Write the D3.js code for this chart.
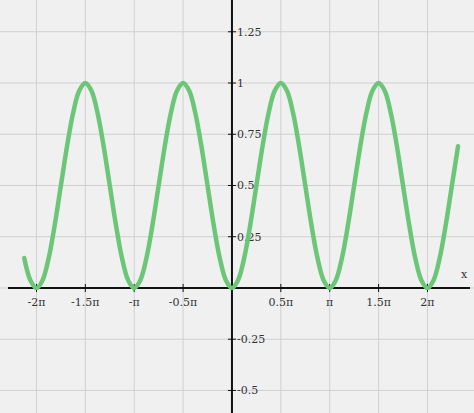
<!DOCTYPE html>
<html><head><meta charset="utf-8">
<script src="https://cdn.jsdelivr.net/npm/d3@7"></script>
<style>body{margin:0;background:#fff}svg{display:block}text{font-family:"DejaVu Serif",serif;font-size:11px;fill:#333}</style>
</head><body>
<script>
// x positions in units of pi/16, from -34 to 37
const xStart = -34;
const yValues = [
  0.146, 0.038, 0, 0.038, 0.146, 0.309, 0.5, 0.691, 0.854, 0.962, 1, 0.962, 0.854, 0.691, 0.5, 0.309,
  0.146, 0.038, 0, 0.038, 0.146, 0.309, 0.5, 0.691, 0.854, 0.962, 1, 0.962, 0.854, 0.691, 0.5, 0.309,
  0.146, 0.038, 0, 0.038, 0.146, 0.309, 0.5, 0.691, 0.854, 0.962, 1, 0.962, 0.854, 0.691, 0.5, 0.309,
  0.146, 0.038, 0, 0.038, 0.146, 0.309, 0.5, 0.691, 0.854, 0.962, 1, 0.962, 0.854, 0.691, 0.5, 0.309,
  0.146, 0.038, 0, 0.038, 0.146, 0.309, 0.5, 0.691
];
const xTicks = [-2, -1.5, -1, -0.5, 0.5, 1, 1.5, 2];
const xTickLabels = ["-2π", "-1.5π", "-π", "-0.5π", "0.5π", "π", "1.5π", "2π"];
const yTicks = [-0.5, -0.25, 0.25, 0.5, 0.75, 1, 1.25];

const W = 474, H = 413;
const x = d3.scaleLinear().domain([-2.373, 2.476]).range([0, W]);
const y = d3.scaleLinear().domain([1.405, -0.61]).range([0, H]);

const svg = d3.select("body").append("svg").attr("width", W).attr("height", H);
svg.append("rect").attr("width", W).attr("height", H).attr("fill", "#f0f0f0");

// grid
const gx = d3.range(-2, 2.51, 0.5);
svg.selectAll(".vg").data(gx).join("line")
  .attr("x1", d => x(d)).attr("x2", d => x(d)).attr("y1", 0).attr("y2", H)
  .attr("stroke", "#d0d0d0");
const gy = d3.range(-0.5, 1.26, 0.25);
svg.selectAll(".hg").data(gy).join("line")
  .attr("y1", d => y(d)).attr("y2", d => y(d)).attr("x1", 0).attr("x2", W)
  .attr("stroke", "#d0d0d0");

// axes
svg.append("line").attr("x1", 8).attr("x2", W - 4).attr("y1", y(0)).attr("y2", y(0))
  .attr("stroke", "#111").attr("stroke-width", 2);
svg.append("line").attr("x1", x(0)).attr("x2", x(0)).attr("y1", 0).attr("y2", H)
  .attr("stroke", "#111").attr("stroke-width", 2);

svg.selectAll(".xt").data(xTicks).join("line")
  .attr("x1", d => x(d)).attr("x2", d => x(d)).attr("y1", y(0) - 4).attr("y2", y(0) + 4)
  .attr("stroke", "#111");
svg.selectAll(".xl").data(xTicks).join("text")
  .attr("x", d => x(d)).attr("y", y(0) + 18).attr("text-anchor", "middle")
  .text((d, i) => xTickLabels[i]);

svg.selectAll(".yt").data(yTicks).join("line")
  .attr("x1", x(0) - 4).attr("x2", x(0) + 4).attr("y1", d => y(d)).attr("y2", d => y(d))
  .attr("stroke", "#111");
svg.selectAll(".yl").data(yTicks).join("text")
  .attr("x", x(0) + 5).attr("y", d => y(d) + 4)
  .text(d => d);

svg.append("text").attr("x", W - 13).attr("y", y(0) - 10).text("x");

// curve
const pts = yValues.map((v, i) => [(xStart + i) / 16, v]);
svg.append("path").datum(pts)
  .attr("d", d3.line().x(d => x(d[0])).y(d => y(d[1])).curve(d3.curveCatmullRom))
  .attr("fill", "none").attr("stroke", "#6cc677").attr("stroke-width", 4.5)
  .attr("stroke-linecap", "round");
</script>
</body></html>
